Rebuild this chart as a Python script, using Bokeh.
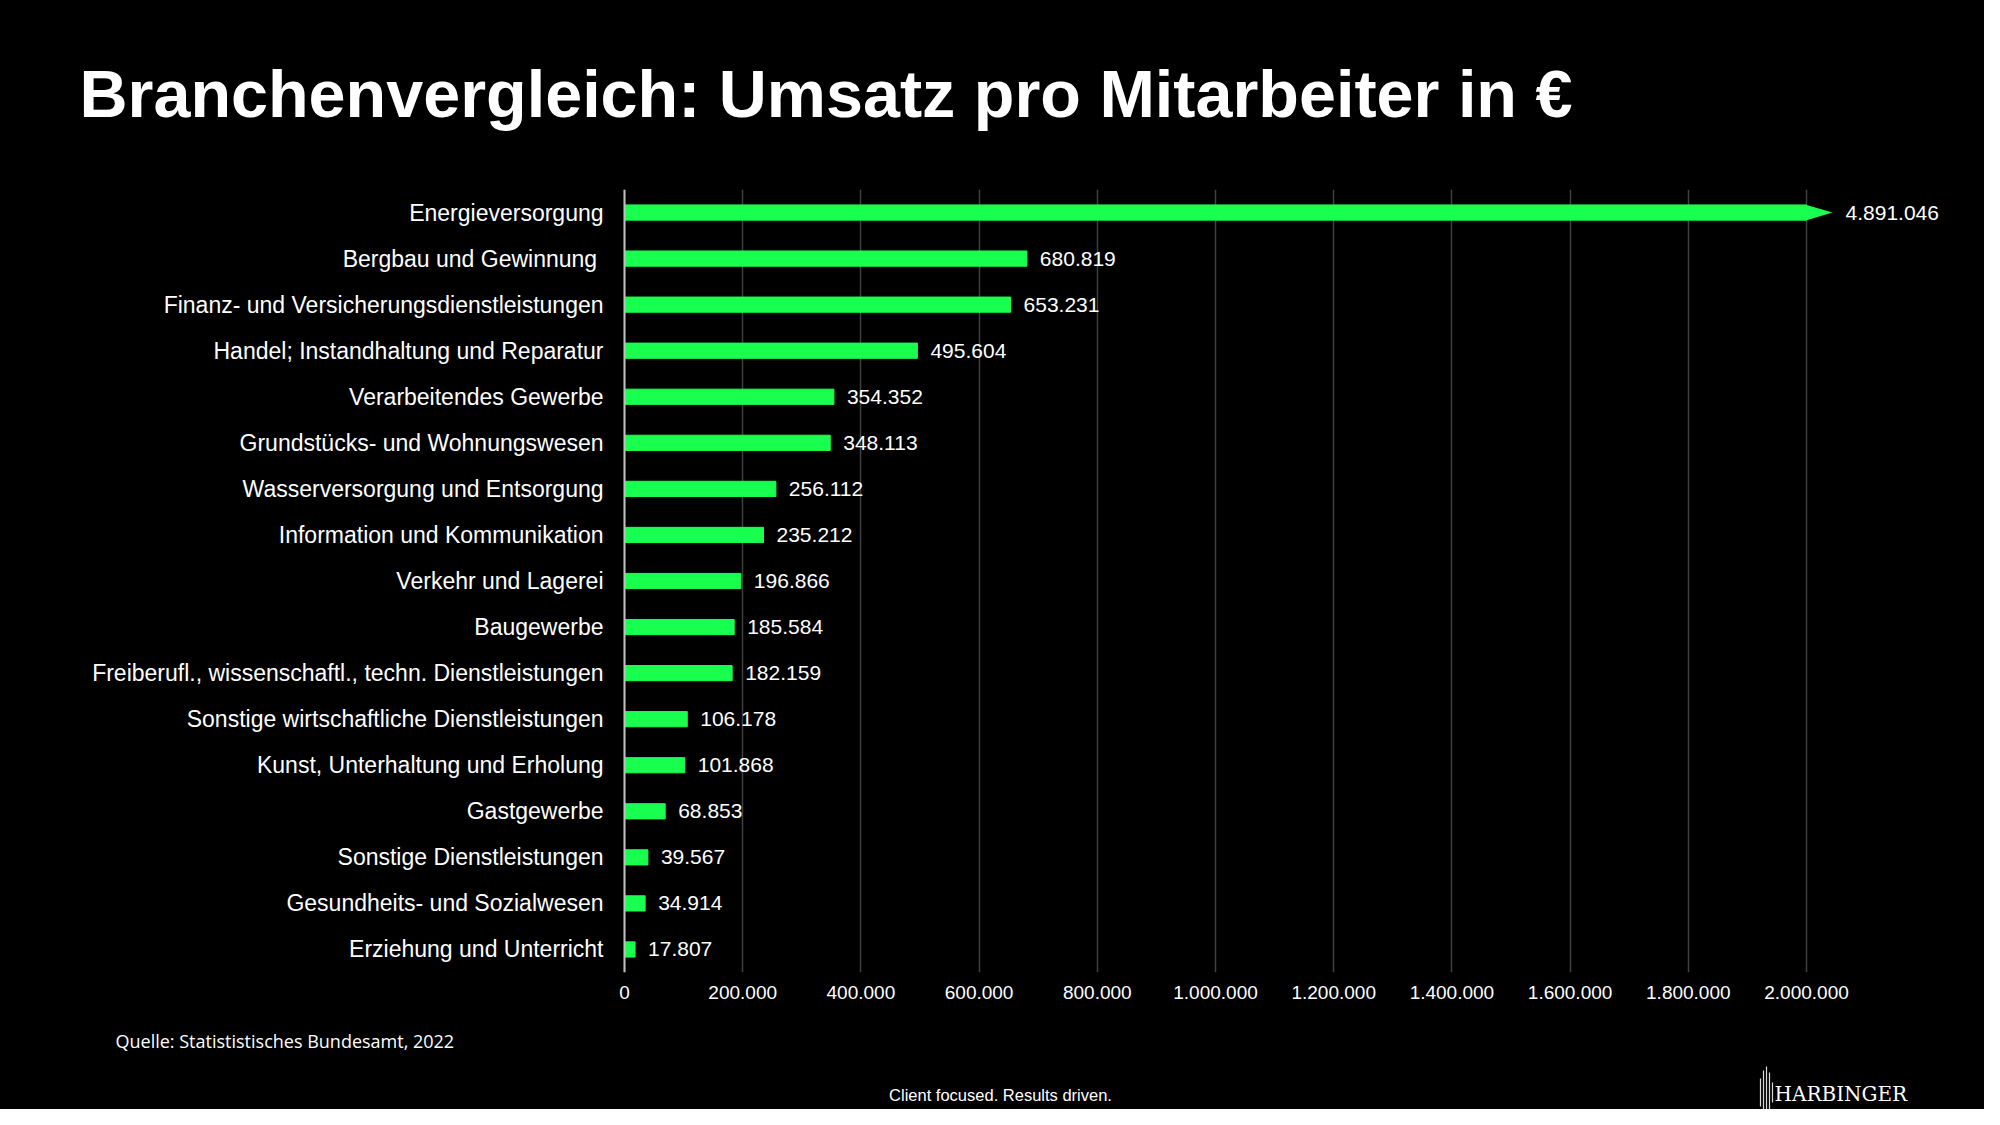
from bokeh.plotting import figure
from bokeh.layouts import column
from bokeh.models import (ColumnDataSource, FixedTicker, CustomJSTickFormatter,
                          Range1d, FactorRange, Span)
from bokeh.core.properties import value
from bokeh.embed import file_html
from bokeh.resources import INLINE

# ---------------- data ----------------
categories = [
    "Energieversorgung",
    "Bergbau und Gewinnung ",
    "Finanz- und Versicherungsdienstleistungen",
    "Handel; Instandhaltung und Reparatur",
    "Verarbeitendes Gewerbe",
    "Grundstücks- und Wohnungswesen",
    "Wasserversorgung und Entsorgung",
    "Information und Kommunikation",
    "Verkehr und Lagerei",
    "Baugewerbe",
    "Freiberufl., wissenschaftl., techn. Dienstleistungen",
    "Sonstige wirtschaftliche Dienstleistungen",
    "Kunst, Unterhaltung und Erholung",
    "Gastgewerbe",
    "Sonstige Dienstleistungen",
    "Gesundheits- und Sozialwesen",
    "Erziehung und Unterricht",
]
values = [4891046, 680819, 653231, 495604, 354352, 348113, 256112, 235212,
          196866, 185584, 182159, 106178, 101868, 68853, 39567, 34914, 17807]
tick_values = [0, 200000, 400000, 600000, 800000, 1000000, 1200000,
               1400000, 1600000, 1800000, 2000000]
axis_cap = 2000000

title_text = "Branchenvergleich: Umsatz pro Mitarbeiter in €"
source_text = "Quelle: Statististisches Bundesamt, 2022"
footer_text = "Client focused. Results driven."
logo_text = "HARBINGER"

# ---------------- styling constants ----------------
GREEN = "#19ff4f"
BAR_H = 0.33
ARROW_LEN = 44000
W = 1984
HEAD_H = 189          # header band (chart frame starts at canvas y=189)
CHART_H = 831         # chart band (frame bottom at canvas y=972)
FOOT_H = 89
LEFT = 624            # canvas x of value 0
px_per_unit = (1806 - 624) / axis_cap


def fmt(v):
    return f"{v:,}".replace(",", ".")


def band(height):
    f = figure(width=W, height=height, output_backend="svg", toolbar_location=None,
               x_range=Range1d(0, W), y_range=Range1d(height, 0),
               x_axis_type=None, y_axis_type=None,
               min_border=0, min_border_left=0, min_border_right=0,
               min_border_top=0, min_border_bottom=0)
    f.background_fill_color = "black"
    f.border_fill_color = "black"
    f.outline_line_color = None
    f.xgrid.visible = False
    f.ygrid.visible = False
    return f


# ---------------- header ----------------
head = band(HEAD_H)
head.text(x=[79], y=[93], text=[title_text], text_font=value("Liberation Sans"),
          text_font_style="bold", text_font_size="66.5px", text_color="white",
          text_baseline="alphabetic", text_align="left")

# ---------------- chart ----------------
bar_right = [min(v, axis_cap) for v in values]
label_x = [min(v, axis_cap) + (ARROW_LEN if v > axis_cap else 0) for v in values]
labels = [fmt(v) for v in values]

src = ColumnDataSource(dict(cat=categories, val=values, right=bar_right,
                            lx=label_x, label=labels, zero=[0] * len(values)))

p = figure(width=W, height=CHART_H, output_backend="svg", toolbar_location=None,
           y_range=FactorRange(factors=categories[::-1]),
           x_range=Range1d(-LEFT / px_per_unit, (W - LEFT) / px_per_unit),
           y_axis_location=None,
           min_border_left=0, min_border_top=0, min_border_bottom=48,
           min_border_right=0)
p.background_fill_color = "black"
p.border_fill_color = "black"
p.outline_line_color = None

ticker = FixedTicker(ticks=tick_values)
p.xgrid.ticker = ticker
p.xgrid.grid_line_color = "#404040"
p.xgrid.grid_line_width = 1.5
p.ygrid.grid_line_color = None

p.add_layout(Span(location=0, dimension="height", line_color="#bfbfbf", line_width=2))

p.hbar(y="cat", left=0, right="right", height=BAR_H, color=GREEN, source=src)

for c, v in zip(categories, values):
    if v > axis_cap:
        p.patch(x=[axis_cap, axis_cap + ARROW_LEN, axis_cap],
                y=[(c, -BAR_H / 2), (c, 0), (c, BAR_H / 2)],
                color=GREEN, line_width=0)

# value labels
p.text(x="lx", y="cat", text="label", source=src, x_offset=13,
       text_baseline="middle", text_align="left",
       text_font=value("Liberation Sans"), text_font_size="21px",
       text_color="white")
# category labels (placed through the categorical y scale)
p.text(x="zero", y="cat", text="cat", source=src, x_offset=-21,
       text_baseline="middle", text_align="right",
       text_font=value("Liberation Sans"), text_font_size="23px",
       text_color="white")

p.xaxis.ticker = ticker
p.xaxis.formatter = CustomJSTickFormatter(
    code="return tick.toFixed(0).replace(/\\B(?=(\\d{3})+(?!\\d))/g, '.');")
p.xaxis.axis_line_color = None
p.xaxis.major_tick_line_color = None
p.xaxis.minor_tick_line_color = None
p.xaxis.major_tick_out = 0
p.xaxis.major_tick_in = 0
p.xaxis.major_label_standoff = 13
p.xaxis.major_label_text_color = "white"
p.xaxis.major_label_text_font = "Liberation Sans"
p.xaxis.major_label_text_font_size = "19px"

# ---------------- footer ----------------
foot = band(FOOT_H)
y0 = HEAD_H + CHART_H  # canvas y of footer top
foot.text(x=[115], y=[1040 - y0], text=[source_text], text_font=value("Open Sans"),
          text_font_size="18px", text_color="white", text_baseline="middle",
          text_align="left")
foot.text(x=[1000], y=[1094 - y0], text=[footer_text], text_font=value("Liberation Sans"),
          text_font_size="16.5px", text_color="white", text_baseline="middle",
          text_align="center")
foot.text(x=[1774], y=[1093 - y0], text=[logo_text], text_font=value("DejaVu Serif"),
          text_font_size="20px", text_color="white", text_baseline="middle",
          text_align="left")
lx = [1760, 1763, 1766, 1769, 1772]
ly0 = [1078, 1070, 1066, 1072, 1082]
ly1 = [1106, 1114, 1118, 1112, 1102]
foot.segment(x0=lx, x1=lx, y0=[v - y0 for v in ly0], y1=[v - y0 for v in ly1],
             line_color="white", line_alpha=0.85, line_width=1.2)

page = column(head, p, foot, spacing=0)
page.styles = {"background-color": "black"}

open("out.html", "w").write(file_html(page, INLINE))
